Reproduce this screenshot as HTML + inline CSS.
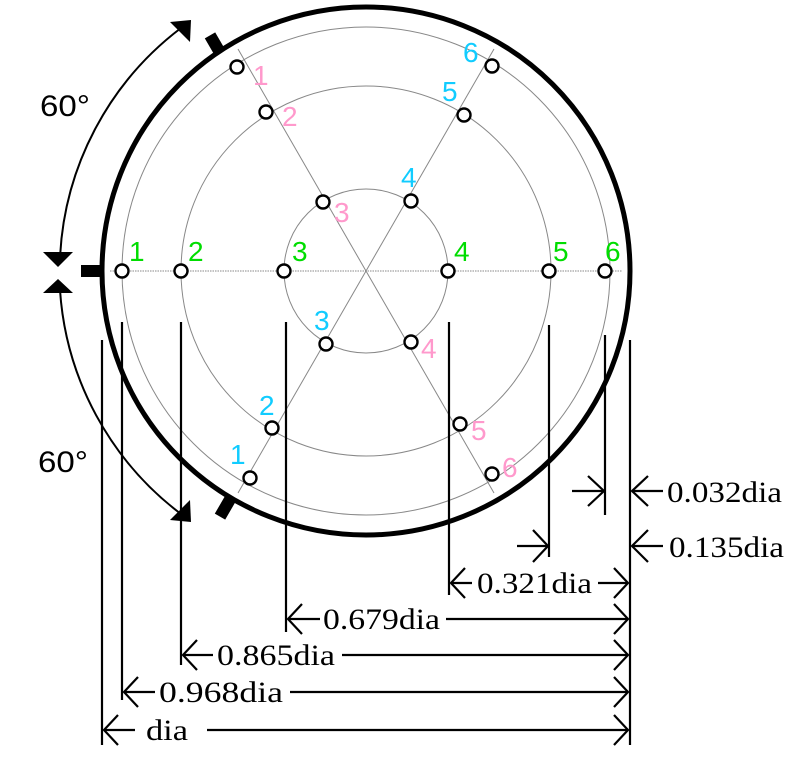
<!DOCTYPE html>
<html><head><meta charset="utf-8"><style>html,body{margin:0;padding:0;background:#fff}svg{display:block}</style></head>
<body>
<svg width="800" height="774" viewBox="0 0 800 774" xmlns="http://www.w3.org/2000/svg" font-family="Liberation Sans, sans-serif">
<g fill="none" stroke="#888" stroke-width="1">
<circle cx="366" cy="271" r="244"/>
<circle cx="366" cy="271" r="185"/>
<circle cx="366" cy="271" r="82"/>
<line x1="110" y1="271" x2="622" y2="271" stroke-dasharray="1.5 1"/>
<line x1="238" y1="49" x2="494" y2="493"/>
<line x1="494" y1="49" x2="238" y2="493"/>
</g>
<circle cx="366" cy="271" r="264" fill="none" stroke="#000" stroke-width="5"/>
<rect x="81" y="265" width="20" height="12" fill="#000"/>
<rect x="-10" y="-6" width="20" height="12" fill="#000" transform="translate(215,44) rotate(-120)"/>
<rect x="-10" y="-6" width="20" height="12" fill="#000" transform="translate(225,508) rotate(120)"/>
<g fill="none" stroke="#000" stroke-width="2">
<path d="M60 258 A306 306 0 0 1 181 28"/>
<path d="M60 290 A306 306 0 0 0 181 514"/>
</g>
<polygon points="43,252 73,252 58,267" fill="#000"/>
<polygon points="43,293 73,293 58,279" fill="#000"/>
<polygon points="170,22 191,20 190,42" fill="#000"/>
<polygon points="170,520 191,522 190,500" fill="#000"/>
<text x="40" y="116" font-size="30" textLength="50" lengthAdjust="spacingAndGlyphs">60°</text>
<text x="38" y="472" font-size="30" textLength="50" lengthAdjust="spacingAndGlyphs">60°</text>
<g fill="#fff" stroke="#000" stroke-width="2.4">
<circle cx="122" cy="271" r="6.5"/><circle cx="181" cy="271" r="6.5"/><circle cx="284" cy="271" r="6.5"/>
<circle cx="448" cy="271" r="6.5"/><circle cx="549" cy="271" r="6.5"/><circle cx="605" cy="271" r="6.5"/>
<circle cx="237" cy="67" r="6.5"/><circle cx="266" cy="112" r="6.5"/><circle cx="323" cy="202" r="6.5"/>
<circle cx="411" cy="342" r="6.5"/><circle cx="460" cy="424" r="6.5"/><circle cx="492" cy="474" r="6.5"/>
<circle cx="250" cy="478" r="6.5"/><circle cx="272" cy="428" r="6.5"/><circle cx="326" cy="344" r="6.5"/>
<circle cx="411" cy="201" r="6.5"/><circle cx="464" cy="115" r="6.5"/><circle cx="492" cy="66" r="6.5"/>
</g>
<g font-size="28" fill="#00dd00">
<text x="129" y="261">1</text><text x="188" y="261">2</text><text x="292" y="261">3</text>
<text x="454" y="261">4</text><text x="553" y="261">5</text><text x="605" y="261">6</text>
</g>
<g font-size="28" fill="#ff99cc">
<text x="253" y="85">1</text><text x="282" y="126">2</text><text x="334" y="222">3</text>
<text x="421" y="358">4</text><text x="471" y="440">5</text><text x="502" y="477">6</text>
</g>
<g font-size="28" fill="#11ccff">
<text x="230" y="464">1</text><text x="259" y="415">2</text><text x="314" y="330">3</text>
<text x="401" y="187">4</text><text x="442" y="101">5</text><text x="463" y="62">6</text>
</g>
<g stroke="#000" stroke-width="2.2" fill="none">
<line x1="630" y1="340" x2="630" y2="745"/>
<line x1="605" y1="335" x2="605" y2="515"/>
<line x1="549" y1="325" x2="549" y2="557"/>
<line x1="449" y1="322" x2="449" y2="595"/>
<line x1="286" y1="322" x2="286" y2="632"/>
<line x1="181" y1="322" x2="181" y2="665"/>
<line x1="122" y1="322" x2="122" y2="700"/>
<line x1="102" y1="340" x2="102" y2="745"/>
<line x1="572" y1="491" x2="603" y2="491"/><path d="M588 476 L604 491 L588 506"/>
<line x1="632" y1="491" x2="663" y2="491"/><path d="M648 476 L632 491 L648 506"/>
<line x1="517" y1="546" x2="547" y2="546"/><path d="M533 530 L548 546 L533 562"/>
<line x1="632" y1="546" x2="663" y2="546"/><path d="M648 530 L632 546 L648 562"/>
<path d="M465 568 L451 583 L465 598"/><line x1="451" y1="583" x2="472" y2="583"/>
<line x1="598" y1="583" x2="628" y2="583"/><path d="M614 568 L628 583 L614 598"/>
<path d="M302 604 L288 619 L302 634"/><line x1="288" y1="619" x2="320" y2="619"/>
<line x1="446" y1="619" x2="628" y2="619"/><path d="M614 604 L628 619 L614 634"/>
<path d="M197 640 L183 655 L197 670"/><line x1="183" y1="655" x2="213" y2="655"/>
<line x1="342" y1="655" x2="628" y2="655"/><path d="M614 640 L628 655 L614 670"/>
<path d="M138 677 L124 692 L138 707"/><line x1="124" y1="692" x2="155" y2="692"/>
<line x1="290" y1="692" x2="628" y2="692"/><path d="M614 677 L628 692 L614 707"/>
<path d="M118 715 L104 730 L118 745"/><line x1="104" y1="730" x2="135" y2="730"/>
<line x1="207" y1="730" x2="628" y2="730"/><path d="M614 715 L628 730 L614 745"/>
</g>
<g font-family="Liberation Serif, serif" font-size="30" fill="#000" lengthAdjust="spacingAndGlyphs">
<text x="667" y="502" textLength="115" lengthAdjust="spacingAndGlyphs">0.032dia</text>
<text x="669" y="557" textLength="115" lengthAdjust="spacingAndGlyphs">0.135dia</text>
<text x="477" y="593" textLength="115" lengthAdjust="spacingAndGlyphs">0.321dia</text>
<text x="323" y="629" textLength="117" lengthAdjust="spacingAndGlyphs">0.679dia</text>
<text x="217" y="665" textLength="118" lengthAdjust="spacingAndGlyphs">0.865dia</text>
<text x="159" y="702" textLength="124" lengthAdjust="spacingAndGlyphs">0.968dia</text>
<text x="146" y="740" textLength="42" lengthAdjust="spacingAndGlyphs">dia</text>
</g>
</svg>
</body></html>
